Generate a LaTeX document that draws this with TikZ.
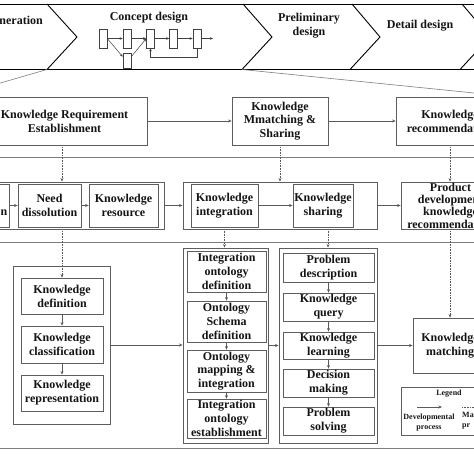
\documentclass[tikz,border=0pt]{standalone}
\usepackage{fontspec}
\setmainfont{Liberation Serif}
\usetikzlibrary{arrows.meta,fit,calc}
\definecolor{boxc}{HTML}{5E5E5E}
\definecolor{bandc}{HTML}{7E7E7E}
\definecolor{arrc}{HTML}{5A5A5A}
\begin{document}
\begin{tikzpicture}[x=1pt,y=-1pt,
  txt/.style={font=\bfseries\fontsize{12}{13.8}\selectfont, align=center, inner sep=0pt, text=black!92},
  txtsm/.style={font=\bfseries\fontsize{12}{12.3}\selectfont, align=center, inner sep=0pt, text=black!92},
  lgt/.style={font=\bfseries\fontsize{8}{10.5}\selectfont, align=center, inner sep=0pt, text=black!90},
  bx/.style={draw=boxc, line width=0.8pt, inner sep=0pt, fill=white},
  grp/.style={draw=boxc, line width=0.9pt, inner sep=0pt},
  arr/.style={draw=arrc, line width=0.6pt, -{Stealth[length=3.5pt,width=3pt]}},
  dotarr/.style={draw=arrc, line width=0.6pt, densely dotted, -{Stealth[length=3.5pt,width=3pt]}},
  band/.style={draw=bandc, line width=0.8pt},
  mini/.style={draw=black!75, line width=0.5pt, fill=white, inner sep=0pt, minimum width=8pt, minimum height=19pt},
  marr/.style={draw=black!75, line width=0.5pt, -{Stealth[length=3pt,width=2.5pt]}},
  chev/.style={draw=black, line width=0.9pt}
]
\useasboundingbox (0,0) rectangle (474,474);
\clip (0,0) rectangle (474,474);
\fill[white] (0,0) rectangle (474,474);

% ---------- top band ----------
\draw[line width=1pt] (-5,4) -- (480,4);
\draw[line width=1pt] (-5,69.5) -- (480,69.5);
\draw[chev] (47,4) -- (77,37) -- (47,69.5);
\draw[chev] (243,4) -- (272,37) -- (242,69.5);
\draw[chev] (352,4) -- (380,37) -- (350,69.5);
\draw[chev] (462,4) -- (490,37) -- (460,69.5);

\node[txt, anchor=base east] (t0) at (43,24) {neration};
\node[txt] (t1) at (149,18) {Concept design};
\node[txt] (t2) at (309,26) {Preliminary\\design};
\node[txt] (t3) at (420,26) {Detail design};

% mini flowchart
\node[mini] (m1) at (103,38.5) {};
\node[mini] (m2) at (127,38.5) {};
\node[mini] (m3) at (150.5,38.5) {};
\node[mini] (m4) at (173.5,38.5) {};
\node[mini] (m5) at (197,38.5) {};
\node[mini, minimum height=15pt] (m6) at (127,60.5) {};
\coordinate (mend) at (213,38.5);
\draw[marr] (m1) -- (m2);
\draw[marr] (m2) -- (m3);
\draw[marr] (m3) -- (m4);
\draw[marr] (m4) -- (m5);
\draw[marr] (m5) -- (mend);
\draw[marr] (m1.east) -- ([yshift=-4pt]m6.north west);
\draw[marr] ([yshift=-4pt]m6.north east) -- (m3.west);
\draw[marr] (m5.south) -- ++(0,9) -| (m3.south);

% zoom lines
\draw[draw=bandc, line width=0.6pt] (47,69.5) -- (-10,86);
\draw[draw=bandc, line width=0.6pt] (242,69.5) -- (490,94.6);

% ---------- row 2 ----------
\node[bx, fit={(-23,97) (147,145)}, label={[txt, xshift=2.5pt]center:{Knowledge Requirement\\Establishment}}] (kre) {};
\node[bx, fit={(232,97) (328,145)}, label={[txt]center:{Knowledge\\Mmatching \&\\Sharing}}] (kms) {};
\node[bx, fit={(396,97) (504,145)}, label={[txt]center:{Knowledge\\recommendation}}] (krec) {};
\draw[arr] (kre) -- (kms);
\draw[arr] (kms) -- (krec);

% band lines
\draw[band] (-5,157) -- (480,157);
\draw[band] (-5,242) -- (480,242);
\draw[band] (-5,448) -- (480,448);

% ---------- band 3 ----------
\node[grp, fit={(-65,182) (164,229)}] (g1) {};
\node[bx, fit={(-60,184) (9,227)}] (hid) {};
\node[txt, anchor=base east] (hidt) at (7.5,215.5) {n};
\node[bx, fit={(18,184) (81,227)}, label={[txt]center:{Need\\dissolution}}] (need) {};
\node[bx, fit={(89,184) (158,227)}, label={[txt]center:{Knowledge\\resource}}] (kres) {};
\draw[arr] (hid) -- (need);
\draw[arr] (need) -- (kres);

\node[grp, fit={(183,182) (377,229)}] (g2) {};
\node[bx, fit={(191,184) (258,227)}, label={[txt]center:{Knowledge\\integration}}] (kint) {};
\node[bx, fit={(293,184) (353,227)}, label={[txt]center:{Knowledge\\sharing}}] (ksh) {};
\draw[arr] (kint) -- (ksh);
\draw[arr] (g1) -- (g2);

\node[bx, fit={(401,182) (500,229)}, label={[txtsm]center:{Product\\development\\knowledge\\recommendation}}] (prod) {};
\draw[arr] (g2) -- (prod);

% ---------- band 4 ----------
\node[grp, fit={(13,266) (110,424)}] (g5) {};
\node[bx, fit={(21,278) (103,314)}, label={[txt]center:{Knowledge\\definition}}] (kdef) {};
\node[bx, fit={(21,326) (103,363)}, label={[txt]center:{Knowledge\\classification}}] (kcls) {};
\node[bx, fit={(21,375) (103,411)}, label={[txt]center:{Knowledge\\representation}}] (krep) {};
\draw[arr] (kdef) -- (kcls);
\draw[arr] (kcls) -- (krep);

\node[grp, fit={(183,248) (268,443)}] (g3) {};
\node[bx, fit={(187,251) (266,292)}, label={[txt]center:{Integration\\ontology\\definition}}] (io1) {};
\node[bx, fit={(187,301) (266,342)}, label={[txt]center:{Ontology\\Schema\\definition}}] (os2) {};
\node[bx, fit={(187,350) (266,392)}, label={[txt]center:{Ontology\\mapping \&\\integration}}] (om3) {};
\node[bx, fit={(187,399) (266,438)}, label={[txt]center:{Integration\\ontology\\establishment}}] (ie4) {};
\draw[arr] (io1) -- (os2);
\draw[arr] (os2) -- (om3);
\draw[arr] (om3) -- (ie4);

\node[grp, fit={(279,248) (377,443)}] (g4) {};
\node[bx, fit={(283,253) (374,282)}, label={[txt]center:{Problem\\description}}] (pd) {};
\node[bx, fit={(283,293) (374,321)}, label={[txt]center:{Knowledge\\query}}] (kq) {};
\node[bx, fit={(283,332) (374,359)}, label={[txt]center:{Knowledge\\learning}}] (kl) {};
\node[bx, fit={(283,369) (374,397)}, label={[txt]center:{Decision\\making}}] (dm) {};
\node[bx, fit={(283,407) (374,435)}, label={[txt]center:{Problem\\solving}}] (ps) {};
\draw[arr] (pd) -- (kq);
\draw[arr] (kq) -- (kl);
\draw[arr] (kl) -- (dm);
\draw[arr] (dm) -- (ps);

\node[bx, fit={(413,318) (487,373)}, label={[txt]center:{Knowledge\\matching}}] (kmatch) {};

\draw[arr] (g5.east) -- (g5.east -| g3.west);
\draw[arr] (g3.east) -- (g3.east -| g4.west);
\draw[arr] (g4.east) -- (g4.east -| kmatch.west);

% dotted management links
\draw[dotarr] (kre.south) -- (kre.south |- g1.north);
\draw[dotarr] (kms.south) -- (kms.south |- g2.north);
\draw[dotarr] (krec.south) -- (krec.south |- prod.north);
\draw[dotarr] (kdef.north |- g1.south) -- (kdef.north);
\draw[dotarr] (kint.south) -- (kint.south |- g3.north);
\draw[dotarr] (g4.north |- ksh.south) -- (g4.north);
\draw[dotarr] (prod.south -| kmatch.north) -- (kmatch.north);

% legend
\node[bx, fit={(401,387) (515,435)}] (leg) {};
\node[lgt] (legt) at (449,394) {Legend};
\coordinate (la1) at (417,407);
\coordinate (la2) at (442,407);
\draw[arr] (la1) -- (la2);
\node[lgt] (ldev) at (429,422.5) {Developmental\\process};
\coordinate (lb1) at (462,407);
\coordinate (lb2) at (492,407);
\draw[dotarr] (lb1) -- (lb2);
\node[lgt, align=left, anchor=north west] (lman) at (462,412) {Ma\\pr};
\end{tikzpicture}
\end{document}
